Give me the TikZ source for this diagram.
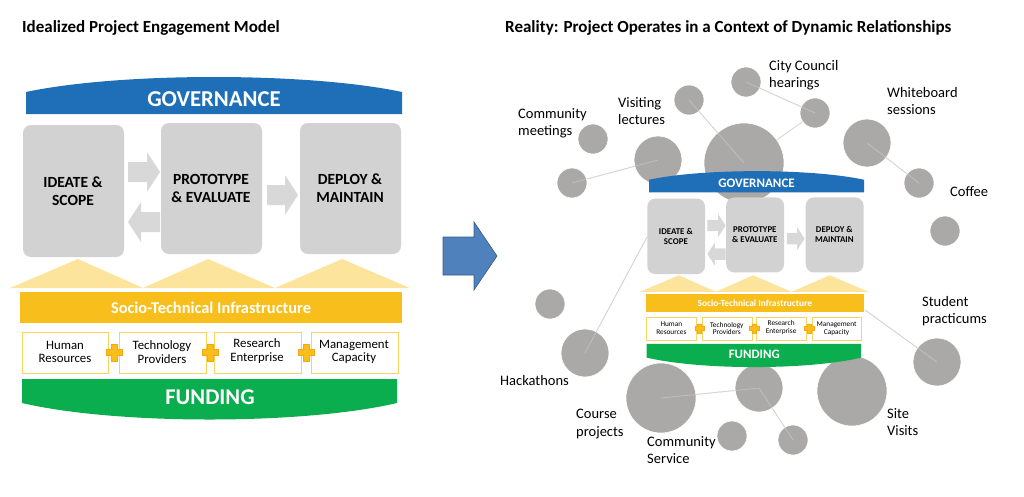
\documentclass[tikz,border=0pt]{standalone}
\usepackage{fontspec}
\setmainfont{Carlito}
\begin{document}
\definecolor{gov}{HTML}{1F6FB8}
\definecolor{fund}{HTML}{0AAE4E}
\definecolor{gold}{HTML}{F8BF1C}
\definecolor{lgold}{HTML}{FCE49C}
\definecolor{boxg}{HTML}{D2D2D2}
\definecolor{arrg}{HTML}{D8D8D8}
\definecolor{circ}{HTML}{ABA8A8}
\definecolor{lnk}{HTML}{D4D4D4}
\definecolor{blu}{HTML}{4F81BD}
\begin{tikzpicture}[x=1pt,y=-1pt,
  stage/.style={fill=boxg,rounded corners=8pt,draw=none},
  stxt/.style={font=\bfseries\fontsize{15.5}{18}\selectfont,align=center,text=black},
  blk/.style={fill=arrg,draw=none},
  small/.style={draw=gold!70,fill=white,line width=0.8pt},
  stx/.style={font=\fontsize{12.8}{13.5}\selectfont,align=center},
  plus/.style={fill=gold,draw=gold!60!orange,line width=0.5pt},
  bub/.style={circle,fill=circ,draw=white,line width=0.6pt,inner sep=0pt},
  lbl/.style={anchor=north west,align=left,font=\fontsize{14.5}{17.5}\selectfont,inner sep=0pt},
  link/.style={draw=lnk,line width=0.8pt},
  ttl/.style={anchor=west,font=\bfseries\fontsize{17}{19}\selectfont,inner sep=0pt}]
\useasboundingbox (0,0) rectangle (1024,496);
\newcommand{\mymodel}[1]{%
  \fill[gov] (26,114)--(26,92) .. controls (120,72) and (308,72) .. (402,92) -- (402,114) -- cycle;
  \node[text=white,font=\bfseries\fontsize{22.7}{24}\selectfont] (#1gov) at (214,99) {GOVERNANCE};
  \fill[stage] (23,125) rectangle (124,257);
  \fill[stage] (161,123) rectangle (262,254);
  \fill[stage] (300,123) rectangle (401,254);
  \node[stxt] (#1b1) at (73,191) {IDEATE \&\\SCOPE};
  \node[stxt] (#1b2) at (211,188) {PROTOTYPE\\\& EVALUATE};
  \node[stxt] (#1b3) at (350,188) {DEPLOY \&\\MAINTAIN};
  \fill[blk] (128,162)--(147,162)--(147,152)--(160,172)--(147,192)--(147,182)--(128,182)--cycle;
  \fill[blk] (160,212)--(141,212)--(141,202)--(128,222)--(141,242)--(141,232)--(160,232)--cycle;
  \fill[blk] (267,185)--(285,185)--(285,175)--(298,195)--(285,215)--(285,205)--(267,205)--cycle;
  \fill[lgold] (10,288)--(78,259)--(143,288)--cycle;
  \fill[lgold] (143,288)--(208,259)--(275,288)--cycle;
  \fill[lgold] (275,288)--(342,259)--(410,288)--cycle;
  \fill[gold] (20,292) rectangle (402,323);
  \node[text=white,font=\bfseries\fontsize{16.4}{18}\selectfont] (#1soc) at (211,308) {Socio-Technical Infrastructure};
  \draw[small] (22,332) rectangle (108,373);
  \draw[small] (119,332) rectangle (206,373);
  \draw[small] (214,332) rectangle (301,373);
  \draw[small] (311,332) rectangle (398,373);
  \node[stx] (#1s1) at (65,352) {Human\\Resources};
  \node[stx] (#1s2) at (162,352) {Technology\\Providers};
  \node[stx] (#1s3) at (257,351) {Research\\Enterprise};
  \node[stx] (#1s4) at (354,352) {Management\\Capacity};
  \foreach \px in {114,210,306}{
    \draw[plus] (\px-3,344)--(\px+3,344)--(\px+3,349)--(\px+8,349)--(\px+8,355)--(\px+3,355)--(\px+3,361)--(\px-3,361)--(\px-3,355)--(\px-8,355)--(\px-8,349)--(\px-3,349)--cycle;}
  \fill[fund] (22,379)--(397,379)--(397,403) .. controls (303,425) and (116,425) .. (22,403) -- cycle;
  \node[text=white,font=\bfseries\fontsize{22.5}{24}\selectfont] (#1fund) at (210,397) {FUNDING};
}
\node[ttl] (t1) at (22,28) {Idealized Project Engagement Model};
\node[ttl] (t2) at (505,28) {Reality: Project Operates in a Context of Dynamic Relationships};
\mymodel{L}
% middle arrow
\draw[fill=blu,draw=blu!70!black,line width=0.6pt] (443,237)--(474,237)--(474,222)--(497,256)--(474,290)--(474,275)--(443,275)--cycle;
% right side
\coordinate (r1) at (746,82); \coordinate (r2) at (689,100); \coordinate (r3) at (815,113);
\coordinate (r4) at (593,139); \coordinate (r5) at (658,160); \coordinate (r6) at (744,163);
\coordinate (r7) at (867,143); \coordinate (r8) at (572,183); \coordinate (r9) at (919,183);
\coordinate (r10) at (945,231); \coordinate (r11) at (550,304); \coordinate (r12) at (585,353);
\coordinate (r13) at (937,362); \coordinate (r14) at (661,398); \coordinate (r15) at (759,388);
\coordinate (r16) at (852,391); \coordinate (r17) at (732,436); \coordinate (r18) at (793,440);
\coordinate (pa) at (647,237); \coordinate (pb) at (865,310);
\path[link] (r1)--(r3) (r3)--(r6) (r2)--(r6) (r8)--(r5) (r7)--(r9) (pa)--(r12) (pb)--(r13) (r14)--(r15) (r15)--(r18);
\foreach \n/\r in {1/15,2/15,3/15,4/15,5/24,6/40,7/24,8/15,9/15,10/15,11/15,12/24,13/24,14/35,15/24,16/35,17/15,18/15}{
  \node[bub,minimum size=2*\r pt] (c\n) at (r\n) {};}
\path[link,draw opacity=0.5] (pa)--(r12) (pb)--(r13) (r14)--(r15) (r15)--(r18) (r1)--(r3) (r2)--(r6) (r8)--(r5) (r7)--(r9);
\begin{scope}[shift={(634.13,127.1)},scale=0.572,transform shape]
\mymodel{R}
\end{scope}
\node[lbl] (l1) at (769,60) {City Council\\hearings};
\node[lbl] (l2) at (887,87) {Whiteboard\\sessions};
\node[lbl] (l3) at (518,108) {Community\\meetings};
\node[lbl] (l4) at (618,97) {Visiting\\lectures};
\node[lbl] (l5) at (950,186) {Coffee};
\node[lbl] (l6) at (922,296) {Student\\practicums};
\node[lbl] (l7) at (500,375) {Hackathons};
\node[lbl] (l8) at (576,409) {Course\\projects};
\node[lbl] (l9) at (647,436) {Community\\Service};
\node[lbl] (l10) at (887,408) {Site\\Visits};
\end{tikzpicture}
\end{document}
